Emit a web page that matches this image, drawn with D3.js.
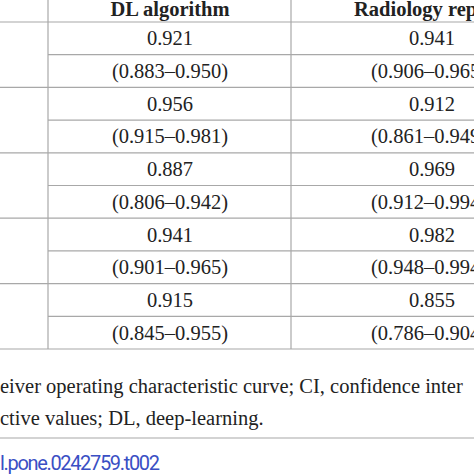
<!DOCTYPE html>
<html><head><meta charset="utf-8">
<script src="https://cdn.jsdelivr.net/npm/d3@7"></script>
<style>body{margin:0;background:#fff}svg{display:block}</style>
</head><body>
<svg id="c" width="474" height="474"></svg>
<script>
const headers = ['DL algorithm', 'Radiology rep'];
const dlValues = ['0.921', '0.956', '0.887', '0.941', '0.915'];
const dlCI = ['(0.883\u20130.950)', '(0.915\u20130.981)', '(0.806\u20130.942)', '(0.901\u20130.965)', '(0.845\u20130.955)'];
const radValues = ['0.941', '0.912', '0.969', '0.982', '0.855'];
const radCI = ['(0.906\u20130.965', '(0.861\u20130.949', '(0.912\u20130.994', '(0.948\u20130.994', '(0.786\u20130.904'];
const notes = ['eiver operating characteristic curve; CI, confidence inter', 'ctive values; DL, deep-learning.'];
const doi = 'l.pone.0242759.t002';

const svg = d3.select('#c');
const font = "'Liberation Serif','DejaVu Serif',serif";
const line = '#a8a8a8';
const rowY = d3.scaleLinear().domain([0, 10]).range([22, 349]);
const colX = [48, 291];
const cx = [170, 432];

function hl(y, x1, x2) {
  svg.append('line').attr('x1', x1).attr('x2', x2).attr('y1', y).attr('y2', y)
    .attr('stroke', line).attr('stroke-width', 1.2);
}
colX.forEach(x => svg.append('line').attr('x1', x).attr('x2', x).attr('y1', 0).attr('y2', 349)
  .attr('stroke', line).attr('stroke-width', 1.2));
for (let i = 0; i <= 10; i++) hl(rowY(i), i % 2 === 0 ? 0 : colX[0], 474);

headers.forEach((h, i) => svg.append('text').attr('x', i ? 354 : cx[i]).attr('y', 16)
  .attr('text-anchor', i ? 'start' : 'middle').attr('font-family', font).attr('font-weight', 'bold')
  .attr('font-size', 20.5).attr('fill', '#222').text(h));

const cols = [[dlValues, dlCI], [radValues, radCI]];
cols.forEach(([v, ci], c) => {
  v.forEach((t, i) => {
    [t, ci[i]].forEach((s, k) => {
      const r = i * 2 + k;
      const el = svg.append('text').attr('y', (rowY(r) + rowY(r + 1)) / 2 + 7)
        .attr('font-family', font).attr('font-size', 20.5).attr('fill', '#222').text(s);
      if (c === 1 && k === 1) el.attr('x', 371);
      else el.attr('x', cx[c]).attr('text-anchor', 'middle');
    });
  });
});

notes.forEach((n, i) => svg.append('text').attr('x', 0).attr('y', 393 + i * 32)
  .attr('font-family', font).attr('font-size', 20.5).attr('fill', '#222').text(n));
hl(438, 0, 474);
svg.append('text').attr('x', 0).attr('y', 470).attr('font-family', "'Liberation Sans Narrow','Roboto',sans-serif")
  .attr('font-size', 20).attr('fill', '#3a4fc4').attr('textLength', 160).text(doi);
</script>
</body></html>
